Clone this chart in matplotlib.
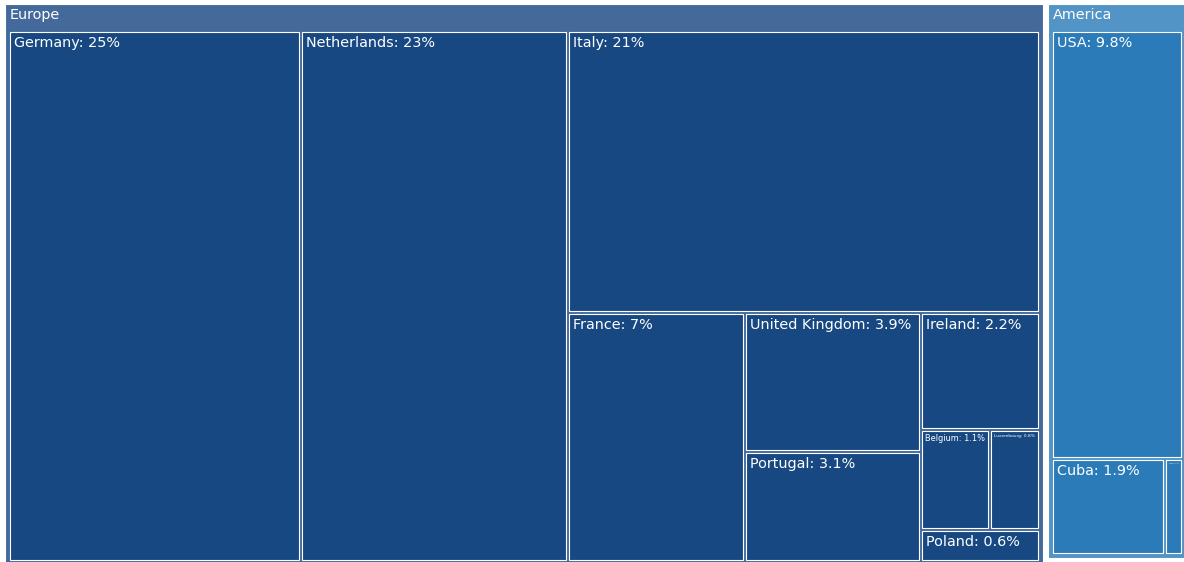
import matplotlib
matplotlib.use("Agg")
import matplotlib.pyplot as plt
from matplotlib.patches import Rectangle

# share of total exports, by region
regions = ["Europe", "America"]
region_colors = ["#44699b", "#5294c5"]
leaf_colors = ["#174882", "#2b7bb9"]

europe_names = ["Germany", "Netherlands", "Italy", "France", "United Kingdom",
                "Portugal", "Ireland", "Belgium", "Luxembourg", "Poland"]
europe_values = [24.8, 22.7, 21.3, 7.0, 3.9, 3.1, 2.2, 1.1, 0.8, 0.6]

america_names = ["USA", "Cuba", "Canada"]
america_values = [9.8, 1.9, 0.3]

W, H = 1184, 562
GAP_TOP = 5      # gap between region boxes
GAP_LEAF = 3     # gap between country boxes
PAD_L, PAD_R, PAD_T, PAD_B = 5, 5, 28, 5
BOTTOM_TRIM = [0, 7]   # America box stops short of the bottom edge


def squarify(vals, x0, y0, x1, y1, ratio=1.0):
    # same rule as d3 treemapSquarify
    rects = []
    value = float(sum(vals))
    n = len(vals)
    i0 = i1 = 0
    while i0 < n:
        dx, dy = x1 - x0, y1 - y0
        sum_v = vals[i1]
        i1 += 1
        min_v = max_v = sum_v
        alpha = max(dy / dx, dx / dy) / (value * ratio)
        beta = sum_v * sum_v * alpha
        min_ratio = max(max_v / beta, beta / min_v)
        while i1 < n:
            v = vals[i1]
            s = sum_v + v
            lo, hi = min(min_v, v), max(max_v, v)
            beta = s * s * alpha
            new_ratio = max(hi / beta, beta / lo)
            if new_ratio > min_ratio:
                break
            sum_v, min_v, max_v, min_ratio = s, lo, hi, new_ratio
            i1 += 1
        row = vals[i0:i1]
        if dx < dy:
            yb = y0 + dy * sum_v / value
            cx = x0
            for v in row:
                w = dx * v / sum_v
                rects.append((cx, y0, cx + w, yb))
                cx += w
            y0 = yb
        else:
            xb = x0 + dx * sum_v / value
            cy = y0
            for v in row:
                h = dy * v / sum_v
                rects.append((x0, cy, xb, cy + h))
                cy += h
            x0 = xb
        value -= sum_v
        i0 = i1
    return rects


fig = plt.figure(figsize=(W / 100, H / 100), dpi=100)
ax = fig.add_axes([0, 0, 1, 1])
ax.set_xlim(0, W)
ax.set_ylim(H, 0)
ax.axis("off")
renderer = fig.canvas.get_renderer()

BASE = 10.4


def put_label(text, box):
    x0, y0, x1, y1 = box
    t = ax.text(x0 + 4, y0 + 4, text, color="white", fontsize=BASE,
                ha="left", va="top")
    bb = t.get_window_extent(renderer)
    avail_w = (x1 - x0) - 6
    avail_h = (y1 - y0) - 6
    scale = min(1.0, avail_w / bb.width, avail_h / bb.height)
    if scale < 1.0:
        t.set_fontsize(BASE * scale)
        t.set_position((x0 + 3, y0 + 3))


children = [europe_values, america_values]
child_names = [europe_names, america_names]
total = sum(europe_values) + sum(america_values)

root = (2.5, 1.5, W + 4, H + 5)
top_cells = squarify([sum(c) for c in children], *root)

for k, cell in enumerate(top_cells):
    g = GAP_TOP / 2
    box = (cell[0] + g, cell[1] + g, cell[2] - g, cell[3] - g - BOTTOM_TRIM[k])
    ax.add_patch(Rectangle((box[0], box[1]), box[2] - box[0], box[3] - box[1],
                           facecolor=region_colors[k], edgecolor="white", lw=0.8))
    ax.text(box[0] + 5, box[1] + 4, regions[k], color="white", fontsize=BASE,
            ha="left", va="top")

    h = GAP_LEAF / 2
    inner = (box[0] + PAD_L - h, box[1] + PAD_T - h,
             box[2] - PAD_R + h, box[3] - PAD_B + h)
    leaf_cells = squarify(children[k], *inner)
    for name, v, c in zip(child_names[k], children[k], leaf_cells):
        lb = (c[0] + h, c[1] + h, c[2] - h, c[3] - h)
        ax.add_patch(Rectangle((lb[0], lb[1]), lb[2] - lb[0], lb[3] - lb[1],
                               facecolor=leaf_colors[k], edgecolor="white", lw=0.8))
        put_label(f"{name}: {v / total * 100:.2g}%", lb)

fig.savefig("out.png", dpi=100)
